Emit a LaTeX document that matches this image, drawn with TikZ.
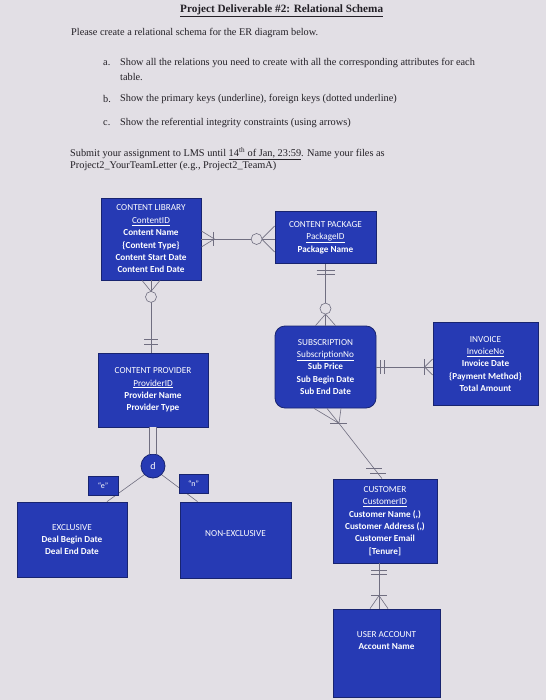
\documentclass[tikz,border=0pt]{standalone}
\usepackage{fontspec}
\setmainfont{Liberation Serif}
\newfontfamily\erfont{Carlito}
\usetikzlibrary{calc}
\definecolor{paper}{RGB}{226,223,229}
\definecolor{erblue}{RGB}{38,58,180}
\definecolor{eredge}{RGB}{24,36,112}
\definecolor{link}{RGB}{112,110,128}
\definecolor{ink}{RGB}{35,32,38}
\begin{document}
\begin{tikzpicture}[x=1pt,y=-1pt,
    txt/.style={anchor=west,inner sep=0pt,text=ink,font=\fontsize{10.3}{12}\selectfont},
    entity/.style={draw=eredge,line width=0.8pt,fill=erblue,text=white,align=center,inner sep=0pt,font=\erfont\fontsize{9.2}{12.4}\selectfont},
    tag/.style={draw=eredge,line width=0.6pt,fill=erblue,text=white,inner sep=0pt,minimum width=30pt,minimum height=19pt,font=\erfont\fontsize{8}{9}\selectfont},
    rel/.style={draw=link,line width=0.6pt}]
    \useasboundingbox[fill=paper] (0,0) rectangle (546,700);
    \node[txt,font=\fontsize{11.2}{13}\selectfont\bfseries] (title) at (180,11) {\underline{Project Deliverable \#2: Relational Schema}};
    \node[txt] (intro) at (71,33) {Please create a relational schema for the ER diagram below.};
    \node[txt] (la) at (103,63) {a.};
    \node[txt] (ta) at (120,63) {Show all the relations you need to create with all the corresponding attributes for each};
    \node[txt] (tb) at (120,77) {table.};
    \node[txt] (lb) at (103,99) {b.};
    \node[txt] (tc) at (120,99) {Show the primary keys (underline), foreign keys (dotted underline)};
    \node[txt] (lc) at (103,123) {c.};
    \node[txt] (td) at (120,123) {Show the referential integrity constraints (using arrows)};
    \node[txt] (submit) at (70,154) {Submit your assignment to LMS until \underline{14\textsuperscript{th} of Jan, 23:59}. Name your files as};
    \node[txt] (naming) at (70,166) {Project2\_YourTeamLetter (e.g., Project2\_TeamA)};

    \node[entity,minimum width=100pt,minimum height=82pt] (lib) at (151,239) {CONTENT LIBRARY\\\underline{ContentID}\\\textbf{Content Name}\\\textbf{\{Content Type\}}\\\textbf{Content Start Date}\\\textbf{Content End Date}};
    \node[entity,minimum width=101pt,minimum height=52pt] (pkg) at (325.5,237.5) {CONTENT PACKAGE\\\underline{PackageID}\\\textbf{Package Name}};
    \node[entity,minimum width=110pt,minimum height=74pt] (prov) at (153,390) {CONTENT PROVIDER\\\underline{ProviderID}\\\textbf{Provider Name}\\\textbf{Provider Type}};
    \node[entity,rounded corners=10pt,minimum width=101pt,minimum height=82pt] (sub) at (325.5,367) {SUBSCRIPTION\\\underline{SubscriptionNo}\\\textbf{Sub Price}\\\textbf{Sub Begin Date}\\\textbf{Sub End Date}};
    \node[entity,minimum width=105pt,minimum height=83pt] (inv) at (485.5,364) {INVOICE\\\underline{InvoiceNo}\\\textbf{Invoice Date}\\\textbf{\{Payment Method\}}\\\textbf{Total Amount}};
    \node[entity,minimum width=104pt,minimum height=84pt] (cust) at (385,521) {CUSTOMER\\\underline{CustomerID}\\\textbf{Customer Name (,)}\\\textbf{Customer Address (,)}\\\textbf{Customer Email}\\\textbf{[Tenure]}};
    \node[entity,minimum width=107pt,minimum height=88pt] (acct) at (386.5,653) {USER ACCOUNT\\\textbf{Account Name}\\~\\~};
    \node[entity,minimum width=110pt,minimum height=75pt] (excl) at (72,539.5) {EXCLUSIVE\\\textbf{Deal Begin Date}\\\textbf{Deal End Date}};
    \node[entity,minimum width=111pt,minimum height=76pt] (nonex) at (235.5,540) {NON-EXCLUSIVE\\~};
    \node[entity,circle,minimum size=24pt,font=\erfont\fontsize{10}{12}\selectfont] (dis) at (153,466) {d};

    \coordinate (lp) at (lib.east -| pkg.west);
    \draw[rel] (lib.east) -- (lp);
    \draw[rel] ($(lib.east)+(0,-8)$) -- ($(lib.east)+(13,0)$) -- ($(lib.east)+(0,8)$);
    \draw[rel] ($(lib.east)+(12,-7)$) -- ($(lib.east)+(12,7)$);
    \draw[rel] ($(lp)+(0,-13)$) -- ($(lp)+(-13,0)$) -- ($(lp)+(0,13)$);
    \draw[rel,fill=paper] ($(lp)+(-18,0)$) circle[radius=5.5pt];

    \coordinate (lv) at (lib.south |- prov.north);
    \draw[rel] (lib.south) -- (lv);
    \draw[rel] ($(lib.south)+(-9,0)$) -- ($(lib.south)+(0,11)$) -- ($(lib.south)+(9,0)$);
    \draw[rel,fill=paper] ($(lib.south)+(0,16.5)$) circle[radius=5.5pt];
    \draw[rel] ($(lv)+(-7,-13)$) -- ($(lv)+(7,-13)$) ($(lv)+(-7,-8)$) -- ($(lv)+(7,-8)$);

    \draw[rel] (pkg.south) -- (sub.north);
    \draw[rel] ($(pkg.south)+(-9,6)$) -- ($(pkg.south)+(9,6)$) ($(pkg.south)+(-9,10)$) -- ($(pkg.south)+(9,10)$);
    \draw[rel] ($(sub.north)+(-10,0)$) -- ($(sub.north)+(0,-11.5)$) -- ($(sub.north)+(10,0)$);
    \draw[rel,fill=paper] ($(sub.north)+(0,-17)$) circle[radius=5.5pt];

    \coordinate (si) at (sub.east -| inv.west);
    \draw[rel] (sub.east) -- (si);
    \draw[rel] ($(sub.east)+(4,-7)$) -- ($(sub.east)+(4,7)$) ($(sub.east)+(8,-7)$) -- ($(sub.east)+(8,7)$);
    \draw[rel] ($(si)+(0,-8)$) -- ($(si)+(-8,0)$) -- ($(si)+(0,8)$);
    \draw[rel] ($(si)+(-8,-8)$) -- ($(si)+(-8,8)$);

    \coordinate (sc) at ($(sub.south)+(13.5,15)$);
    \coordinate (cs) at ($(cust.north)+(-3,0)$);
    \draw[rel] (sc) -- (cs);
    \draw[rel] ($(sub.south)+(-11.5,0)$) -- (sc) -- ($(sub.south)+(15.5,0)$) (sc) -- ($(sub.south)+(1.5,0)$);
    \draw[rel] ($(sc)+(-9,0)$) -- ($(sc)+(8,0)$);
    \draw[rel] ($(cs)+(-16,-10)$) -- ($(cs)+(0,-10)$) ($(cs)+(-12,-5)$) -- ($(cs)+(4,-5)$);

    \coordinate (ca) at ($(cust.south)+(-6,0)$);
    \coordinate (ac) at (ca |- acct.north);
    \draw[rel] (ca) -- (ac);
    \draw[rel] ($(ca)+(-8,7)$) -- ($(ca)+(8,7)$) ($(ca)+(-8,11)$) -- ($(ca)+(8,11)$);
    \draw[rel] ($(ac)+(-9,0)$) -- ($(ac)+(0,-13)$) -- ($(ac)+(9,0)$);
    \draw[rel] ($(ac)+(-8,-13)$) -- ($(ac)+(8,-13)$);

    \draw[rel,double=paper,double distance=6pt] (prov.south) -- (dis.north);
    \draw[rel] (dis.south west) -- ($(excl.north)+(35,0)$);
    \draw[rel] (dis.south east) -- ($(nonex.north)+(-38,0)$);
    \node[tag] (tage) at (103,485.5) {“e”};
    \node[tag,minimum width=29pt] (tagn) at (193.5,483.5) {“n”};
\end{tikzpicture}
\end{document}
